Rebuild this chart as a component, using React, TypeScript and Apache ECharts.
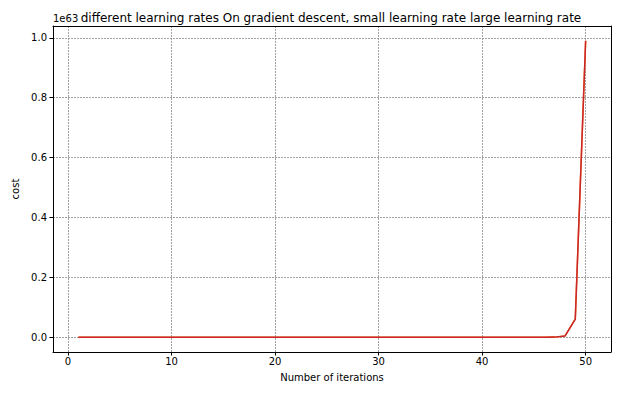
import { useEffect, useRef } from 'react';
import * as echarts from 'echarts';

// cost values, in units of 1e63
const iterations = Array.from({ length: 50 }, (_, i) => i + 1);
const costSmall = [
  0, 0, 0, 0, 0, 0, 0, 0, 0, 0,
  0, 0, 0, 0, 0, 0, 0, 0, 0, 0,
  0, 0, 0, 0, 0, 0, 0, 0, 0, 0,
  0, 0, 0, 0, 0, 0, 0, 0, 0, 0,
  0, 0, 0, 0, 0, 0, 0.0002, 0.0036, 0.06, 0.99,
];
const costLarge = [
  0, 0, 0, 0, 0, 0, 0, 0, 0, 0,
  0, 0, 0, 0, 0, 0, 0, 0, 0, 0,
  0, 0, 0, 0, 0, 0, 0, 0, 0, 0,
  0, 0, 0, 0, 0, 0, 0, 0, 0, 0,
  0, 0, 0, 0, 0, 0, 0.0002, 0.0036, 0.06, 0.99,
];
const xTicks = [0, 10, 20, 30, 40, 50];
const yTicks = [0, 0.2, 0.4, 0.6, 0.8, 1.0];

const titleText =
  'different learning rates On gradient descent, small learning rate large learning rate';

export default function App() {
  const chartRef = useRef<HTMLDivElement>(null);

  useEffect(() => {
    if (!chartRef.current) return;
    const chart = echarts.init(chartRef.current, null, { renderer: 'svg' });

    const font = 'DejaVu Sans';
    const gridLine = { show: true, lineStyle: { color: '#8c8c8c', type: [2, 1] as number[], width: 0.8 } };
    const spine = { show: true, onZero: false, lineStyle: { color: '#000', width: 1 } };
    const xRange = { min: -1.45, max: 52.45 };
    const yRange = { min: -0.0495, max: 1.0395 };

    const option: echarts.EChartsOption = {
      animation: false,
      backgroundColor: '#ffffff',
      textStyle: { fontFamily: font },
      title: {
        text: titleText,
        left: 318,
        top: -1,
        textAlign: 'center',
        textStyle: { fontSize: 12, fontWeight: 'normal', color: '#000', fontFamily: font },
      },
      graphic: [
        {
          type: 'text',
          left: 45,
          top: 5,
          style: { text: '1e63', fontSize: 10, fill: '#000', fontFamily: font },
        },
      ],
      grid: { left: 45, right: 22, top: 18, bottom: 45, outerBoundsMode: 'none' } as any,
      xAxis: [
        {
          type: 'value',
          ...xRange,
          name: 'Number of iterations',
          nameLocation: 'middle',
          nameGap: 20,
          nameTextStyle: { fontSize: 10, color: '#000', fontFamily: font },
          axisLine: spine,
          axisTick: { show: true, length: 3.5, customValues: xTicks, lineStyle: { color: '#000' } },
          axisLabel: { customValues: xTicks, fontSize: 10, color: '#000', margin: 4, fontFamily: font },
          splitLine: gridLine,
        },
        {
          type: 'value',
          position: 'top',
          ...xRange,
          axisLine: spine,
          axisTick: { show: false },
          axisLabel: { show: false },
          splitLine: { show: false },
        },
      ],
      yAxis: [
        {
          type: 'value',
          ...yRange,
          name: 'cost',
          nameLocation: 'middle',
          nameGap: 33,
          nameTextStyle: { fontSize: 10, color: '#000', fontFamily: font },
          axisLine: spine,
          axisTick: { show: true, length: 3.5, customValues: yTicks, lineStyle: { color: '#000' } },
          axisLabel: {
            customValues: yTicks,
            fontSize: 10,
            color: '#000',
            margin: 6,
            fontFamily: font,
            formatter: (v: number) => v.toFixed(1),
          },
          splitLine: gridLine,
        },
        {
          type: 'value',
          position: 'right',
          ...yRange,
          axisLine: spine,
          axisTick: { show: false },
          axisLabel: { show: false },
          splitLine: { show: false },
        },
      ],
      series: [
        {
          name: 'small learning rate',
          type: 'line',
          data: iterations.map((x, i) => [x, costSmall[i]]),
          showSymbol: false,
          lineStyle: { color: '#ff7f0e', width: 1.5 },
          itemStyle: { color: '#ff7f0e' },
        },
        {
          name: 'large learning rate',
          type: 'line',
          data: iterations.map((x, i) => [x, costLarge[i]]),
          showSymbol: false,
          lineStyle: { color: '#c8262a', width: 1.5 },
          itemStyle: { color: '#c8262a' },
        },
      ],
    };

    chart.setOption(option);
    return () => chart.dispose();
  }, []);

  return <div ref={chartRef} style={{ width: 625, height: 389 }} />;
}
